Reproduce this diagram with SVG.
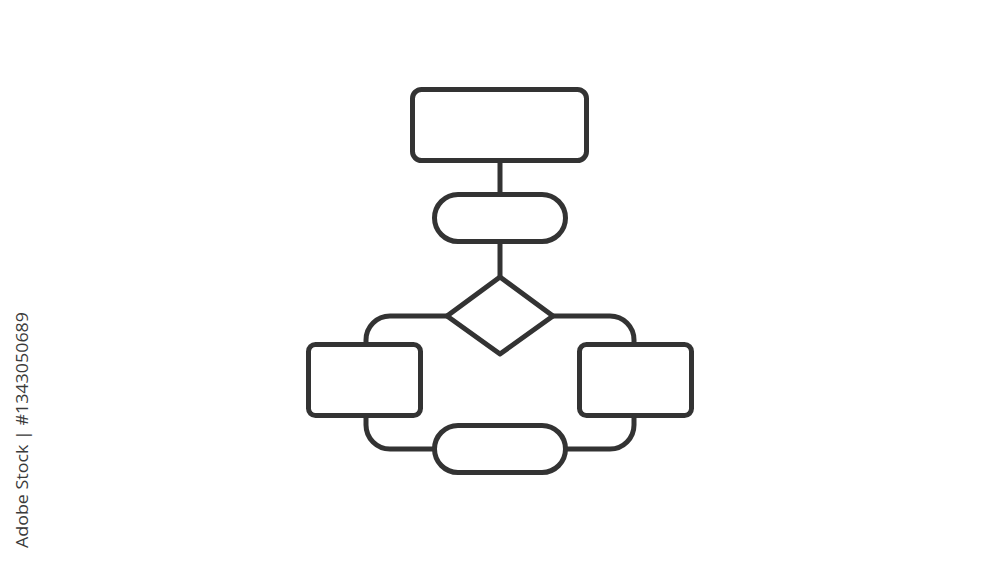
<svg xmlns="http://www.w3.org/2000/svg" width="1000" height="562" viewBox="0 0 1000 562">
<style>
.ln{fill:none;stroke:#333333;stroke-width:5;stroke-linejoin:round;stroke-linecap:butt}
.nd{fill:#ffffff;stroke:#333333;stroke-width:5;stroke-linejoin:round}
.wm{font-family:"Open Sans","Noto Sans",sans-serif;font-size:16px;fill:#3a3a3a}
</style>
<rect width="1000" height="562" fill="#ffffff"/>
<g id="connectors">
<line class="ln" x1="500" y1="160" x2="500" y2="196"/>
<line class="ln" x1="500" y1="240" x2="500" y2="279"/>
<rect class="ln" x="366" y="316" width="268" height="133" rx="24" ry="24"/>
</g>
<g id="start"><rect class="nd" x="412.5" y="89.5" width="174" height="71" rx="9"/></g>
<g id="process"><rect class="nd" x="434.5" y="194.5" width="131" height="47" rx="23.5"/></g>
<g id="decision"><polygon class="nd" points="500,277 553,316 500,354 447,316"/></g>
<g id="left"><rect class="nd" x="308.5" y="344.5" width="112" height="71" rx="7"/></g>
<g id="right"><rect class="nd" x="579.5" y="344.5" width="112" height="71" rx="7"/></g>
<g id="end"><rect class="nd" x="434.5" y="425.5" width="131" height="47" rx="23.5"/></g>
<text class="wm" transform="translate(28,548) rotate(-90)" textLength="236" lengthAdjust="spacingAndGlyphs">Adobe Stock | #1343050689</text>
</svg>
